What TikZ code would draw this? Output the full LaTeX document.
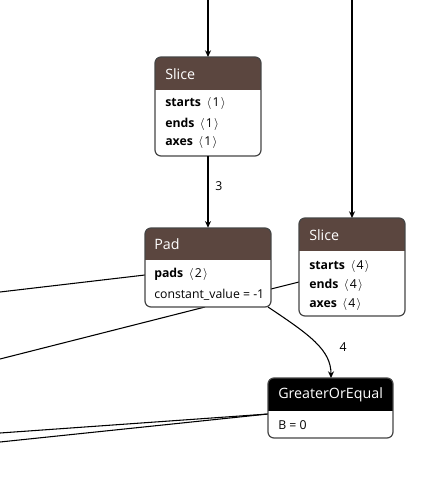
\documentclass[tikz,border=0pt]{standalone}
\usepackage{fontspec}
\setmainfont{Open Sans}
\usetikzlibrary{fit,arrows.meta}
\definecolor{hdr}{HTML}{5B463F}
\definecolor{bord}{HTML}{454545}
\newcommand\ang[1]{\hspace{0.45em}$\langle$\hspace{0.1em}#1\hspace{0.1em}$\rangle$}
\tikzset{
  x=0.75pt, y=-0.75pt,
  edge/.style={draw=black, line width=0.8pt},
  arr/.style={edge, -{Stealth[length=5pt,width=4.5pt]}},
  htext/.style={anchor=west, text=white, inner sep=0pt, font=\fontsize{10.7}{12}\selectfont},
  btext/.style={anchor=west, text=black, inner sep=0pt, font=\fontsize{9.2}{10}\selectfont},
  elabel/.style={text=black, inner sep=0pt, font=\fontsize{9.2}{10}\selectfont},
}
\newcommand\opbox[7]{%
  \node[fit={(#2,#3) (#4,#5)}, inner sep=0pt] (#1) {};
  \begin{scope}
    \clip[rounded corners=4.5pt] (#2,#3) rectangle (#4,#5);
    \fill[white] (#2,#3) rectangle (#4,#5);
    \fill[#7] (#2,#3) rectangle (#4,#6);
  \end{scope}
  \draw[bord, line width=0.9pt, rounded corners=4.5pt] (#2,#3) rectangle (#4,#5);
}
\begin{document}
\begin{tikzpicture}
\useasboundingbox (0,0) rectangle (430,477);
% free ends
\coordinate (top1) at (208,0);
\coordinate (top2) at (352,0);
\coordinate (l1) at (0,292);
\coordinate (l2) at (0,359);
\coordinate (l3) at (0,433);
\coordinate (l4) at (0,442);
% edges behind boxes
\draw[edge] (l1) -- (145,275);
\draw[edge] (l2) -- (205,307);
\draw[edge] (271,289) -- (299,282);
\draw[edge] (l3) -- (268,414);
\draw[edge] (l4) -- (268,414);
% boxes
\opbox{slice1}{155}{57}{261}{156}{90}{hdr}
\opbox{pad}{145}{228}{271}{307}{260}{hdr}
\opbox{slice2}{299}{218}{405}{316}{251}{hdr}
\opbox{goe}{268}{378}{393}{438}{411}{black}
% arrows
\draw[arr] (top1) -- (208,57);
\draw[arr] (top2) -- (352,218);
\draw[arr] (slice1.south) -- (pad.north -| slice1.south);
\draw[arr] (268,307) .. controls (310,335) and (331,350) .. (331,378);
\node[elabel] (lab3) at (219,186) {3};
\node[elabel] (lab4) at (343,347) {4};
% texts
\node[htext] (t1) at (165,74) {Slice};
\node[btext] (t1a) at (165,104) {\textbf{starts}\ang{1}};
\node[btext] (t1b) at (165,124) {\textbf{ends}\ang{1}};
\node[btext] (t1c) at (165,143) {\textbf{axes}\ang{1}};
\node[htext] (t2) at (154,244) {Pad};
\node[btext] (t2a) at (154,274) {\textbf{pads}\ang{2}};
\node[btext] (t2b) at (154,295) {constant\_value = -1};
\node[htext] (t3) at (309,235) {Slice};
\node[btext] (t3a) at (309,266) {\textbf{starts}\ang{4}};
\node[btext] (t3b) at (309,285) {\textbf{ends}\ang{4}};
\node[btext] (t3c) at (309,304) {\textbf{axes}\ang{4}};
\node[htext] (t4) at (278,395) {GreaterOrEqual};
\node[btext] (t4a) at (278,425) {B = 0};
\end{tikzpicture}
\end{document}
